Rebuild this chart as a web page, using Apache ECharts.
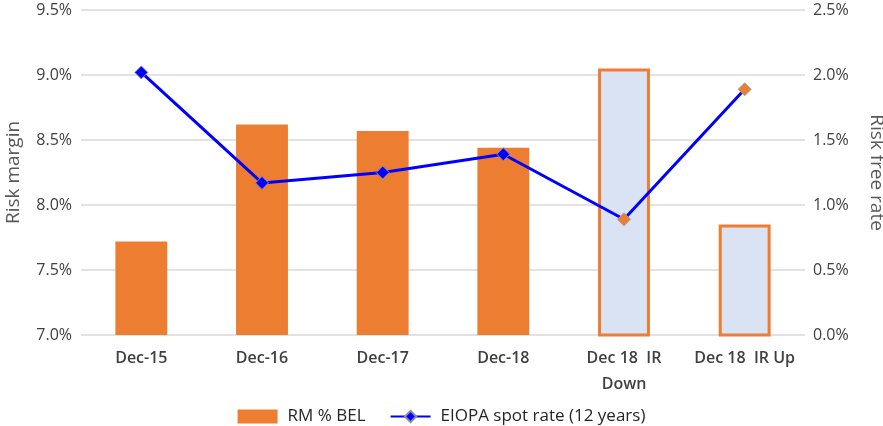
<!DOCTYPE html>
<html><head><meta charset="utf-8">
<script src="https://cdn.jsdelivr.net/npm/echarts@6/dist/echarts.min.js"></script>
<style>html,body{margin:0;padding:0;background:#fff}#c{width:883px;height:426px}</style>
</head><body><div id="c"></div>
<script>
const categories = ['Dec-15','Dec-16','Dec-17','Dec-18','Dec 18  IR\nDown','Dec 18  IR Up'];
const rmPctBel = [7.72, 8.62, 8.57, 8.44, 9.05, 7.85];
const spotRate = [2.02, 1.17, 1.25, 1.39, 0.89, 1.89];
const leftTicks = [7.0, 9.5, 0.5];
const rightTicks = [0.0, 2.5, 0.5];

const ORANGE = '#ed7d31', BLUE = '#0000ff', LIGHT = '#dae3f3';
const font = 'Open Sans';
const chart = echarts.init(document.getElementById('c'));
chart.setOption({
  animation: false,
  textStyle: { fontFamily: font },
  grid: { left: 81, right: 78, top: 10, bottom: 91, containLabel: false, outerBoundsMode: 'none' },
  legend: {
    top: 403, left: 'center', itemGap: 24,
    textStyle: { fontFamily: font, fontSize: 17, color: '#262626', padding: [0, 0, 0, 5] },
    data: [
      { name: 'RM % BEL', icon: 'rect', itemStyle: { color: ORANGE } },
      { name: 'EIOPA spot rate (12 years)' }
    ],
    itemWidth: 40, itemHeight: 14
  },
  xAxis: {
    type: 'category', data: categories,
    axisLine: { show: false }, axisTick: { show: false },
    axisLabel: { fontFamily: font, fontSize: 16, fontWeight: 600, color: '#404040', margin: 10, interval: 0, lineHeight: 26 }
  },
  yAxis: [{
    type: 'value', min: leftTicks[0], max: leftTicks[1], interval: leftTicks[2],
    name: 'Risk margin', nameLocation: 'middle', nameGap: 58, nameRotate: 90,
    nameTextStyle: { fontFamily: font, fontSize: 19, color: '#595959' },
    axisLabel: { formatter: v => v.toFixed(1) + '%', fontSize: 16, color: '#404040', margin: 9 },
    splitLine: { lineStyle: { color: '#d9d9d9', width: 1.5 } }
  }, {
    type: 'value', min: rightTicks[0], max: rightTicks[1], interval: rightTicks[2],
    name: 'Risk free rate', nameLocation: 'middle', nameGap: 62, nameRotate: -90,
    nameTextStyle: { fontFamily: font, fontSize: 19, color: '#595959' },
    axisLabel: { formatter: v => v.toFixed(1) + '%', fontSize: 16, color: '#404040', margin: 8 },
    splitLine: { show: false }
  }],
  series: [{
    name: 'RM % BEL', type: 'bar', yAxisIndex: 0, barWidth: '43%',
    itemStyle: { color: ORANGE },
    data: rmPctBel.map((v, i) => i >= 4
      ? { value: v, itemStyle: { color: LIGHT, borderColor: ORANGE, borderWidth: 3 } }
      : v)
  }, {
    name: 'EIOPA spot rate (12 years)', type: 'line', yAxisIndex: 1,
    symbol: 'diamond', symbolSize: 13,
    lineStyle: { color: BLUE, width: 3 },
    itemStyle: { color: BLUE, borderColor: '#8a8ab0', borderWidth: 1 },
    data: spotRate.map((v, i) => i >= 4
      ? { value: v, itemStyle: { color: ORANGE, borderColor: '#a0a0a0', borderWidth: 1 } }
      : v),
    z: 5
  }]
});
</script></body></html>
